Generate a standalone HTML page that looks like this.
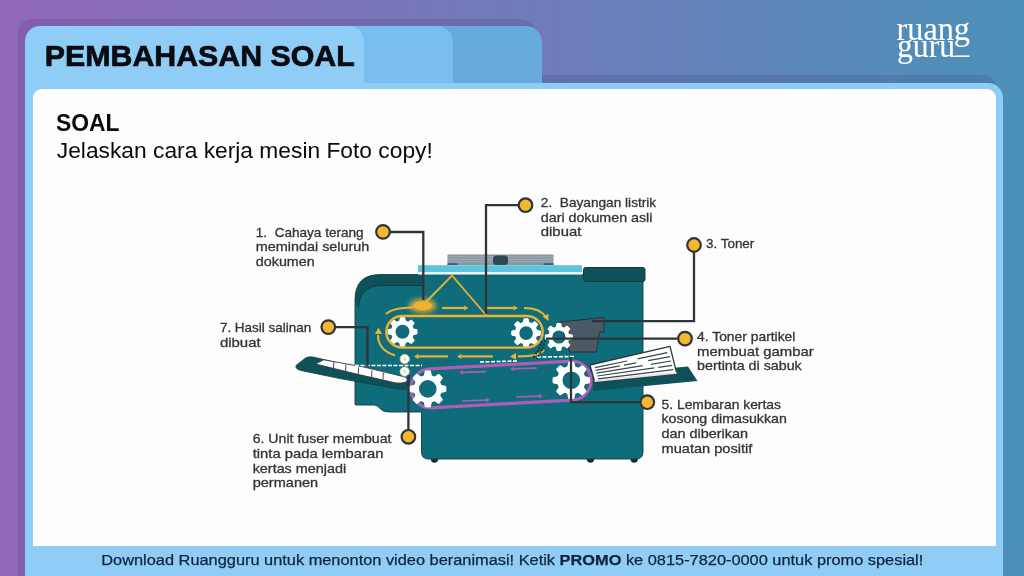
<!DOCTYPE html>
<html><head><meta charset="utf-8">
<style>
html,body{margin:0;padding:0;}
body{width:1024px;height:576px;overflow:hidden;position:relative;
background:linear-gradient(90deg,#9167b9 0%,#717bb9 50%,#4b90b9 100%);
font-family:"Liberation Sans",sans-serif;}
.a{position:absolute;}
svg{will-change:transform;}
.lab{position:absolute;font-size:12.5px;line-height:14.8px;color:#333;white-space:nowrap;}
</style></head>
<body>
<!-- shadows -->
<svg class="a" style="left:0;top:0" width="1024" height="576"><g opacity="0.13" fill="#281e5a"><path d="M18,35 Q18,19 34,19 L519,19 Q535,19 535,35 L535,75 L981,75 Q996,75 996,90 L996,600 L18,600Z"/></g></svg>
<!-- tabs -->
<div class="a" style="left:360px;top:26px;width:182px;height:70px;background:#67aadd;border-radius:16px 16px 0 0;"></div>
<div class="a" style="left:270px;top:26px;width:183px;height:70px;background:#78bdef;border-radius:16px 16px 0 0;"></div>
<div class="a" style="left:25px;top:26px;width:339px;height:70px;background:#8fcdf7;border-radius:15px 15px 0 0;"></div>
<!-- frame -->
<div class="a" style="left:25px;top:83px;width:978px;height:520px;background:#8fcdf7;border-radius:15px;"></div>
<div class="a" style="left:33px;top:89px;width:963px;height:457px;background:#fdfdfe;border-radius:9px 9px 0 0;"></div>
<svg class="a" style="left:0;top:0" width="1024" height="576">
<text id="title" x="44.8" y="65.5" font-size="30" font-weight="bold" fill="#0a0a0f" stroke="#0a0a0f" stroke-width="0.7" textLength="310" lengthAdjust="spacingAndGlyphs">PEMBAHASAN SOAL</text>
<text id="soal" x="56" y="130.9" font-size="23" font-weight="bold" fill="#0a0a0a" textLength="63.5" lengthAdjust="spacingAndGlyphs">SOAL</text>
<text id="q" x="56.8" y="157.8" font-size="21.5" fill="#0a0a0a" textLength="376" lengthAdjust="spacingAndGlyphs">Jelaskan cara kerja mesin Foto copy!</text>
<text id="foot" x="101.3" y="565.3" font-size="15.2" fill="#10233a" stroke="#10233a" stroke-width="0.25" textLength="822" lengthAdjust="spacingAndGlyphs">Download Ruangguru untuk menonton video beranimasi! Ketik <tspan font-weight="bold">PROMO</tspan> ke 0815-7820-0000 untuk promo spesial!</text>
</svg>
<svg class="a" style="left:0;top:0" width="1024" height="576" viewBox="0 0 1024 576">
<defs><filter id="blur" x="-50%" y="-50%" width="200%" height="200%"><feGaussianBlur stdDeviation="2.2"/></filter></defs>
<circle cx="434.5" cy="459" r="3.7" fill="#1d2b30"/>
<circle cx="590.5" cy="459" r="3.7" fill="#1d2b30"/>
<circle cx="634.2" cy="459" r="3.7" fill="#1d2b30"/>
<path d="M355,300 Q355,274.6 380,274.6 L643,274.6 L643,452 Q643,459 636,459 L428.5,459 Q421.5,459 421.5,452 L421.5,412 L389,412 Q383,412 380,408.5 Q377.5,405 374,405 L356,405 Q355,405 355,404 Z" fill="#0f6d7b" stroke="#163a41" stroke-width="0.9"/>
<path d="M355,306 L355,300 Q355,274.6 380,274.6 L423,274.6 L423,285.5 L383,285.5 Q360,285.5 358.5,306 Z" fill="#0f5159"/>
<path d="M358.5,308 Q359,285.5 383,285.5 L423,285.5" fill="none" stroke="#173a40" stroke-width="1"/>
<rect x="418" y="265.2" width="164" height="6.8" fill="#5ec4dd"/>
<rect x="418" y="272" width="164" height="2.6" fill="#e8f6fa"/>
<rect x="447.5" y="254.5" width="106" height="10.5" fill="#8796a0"/>
<line x1="447.5" y1="256.8" x2="553.5" y2="256.8" stroke="#a9b6bd" stroke-width="0.8"/>
<line x1="447.5" y1="259.3" x2="553.5" y2="259.3" stroke="#a9b6bd" stroke-width="0.8"/>
<line x1="447.5" y1="261.8" x2="553.5" y2="261.8" stroke="#a9b6bd" stroke-width="0.8"/>
<rect x="447.5" y="263.2" width="10" height="1.8" fill="#3d5c7a"/>
<rect x="543.5" y="263.2" width="10" height="1.8" fill="#3d5c7a"/>
<rect x="493" y="255.5" width="15" height="9.5" rx="3.5" fill="#2b4a55"/>
<rect x="583.5" y="267.5" width="61.5" height="14" rx="2" fill="#0f5159" stroke="#173a40" stroke-width="1"/>
<path d="M296,365.5 L305.5,358 Q308.5,356.3 313,357 L407,378.8 Q408.5,379.5 408,381.5 L405.5,389.5 Q398,389 385,386.5 L340,378.6 L301,370.5 Q295,369 296,365.5Z" fill="#0f5159" stroke="#173a40" stroke-width="0.8"/>
<path d="M315.4,364 L323.6,359.8 Q365,366 405,377 Q409,379 406,382 Q403,383.5 396,383 Q355,374 315.4,364Z" fill="#fff" stroke="#2a3a40" stroke-width="0.9"/>
<line x1="333.8" y1="362.0" x2="333.5" y2="368.5" stroke="#2a3a40" stroke-width="0.9"/>
<line x1="345.9" y1="364.6" x2="345.6" y2="371.3" stroke="#2a3a40" stroke-width="0.9"/>
<line x1="358.6" y1="367.3" x2="358.3" y2="374.1" stroke="#2a3a40" stroke-width="0.9"/>
<line x1="371.9" y1="370.2" x2="371.6" y2="377.1" stroke="#2a3a40" stroke-width="0.9"/>
<line x1="383.3" y1="372.6" x2="383.0" y2="379.7" stroke="#2a3a40" stroke-width="0.9"/>
<path d="M593,391 L593,375 L688,366.5 L697.5,381Z" fill="#0f5159"/>
<path d="M589.9,365 L670,346.4 L676.8,373.7 L594.8,382Z" fill="#fff" stroke="#2b3a40" stroke-width="1.3" stroke-linejoin="round"/>
<path d="M594.8,382 L676.8,373.7 L676.3,371.8 L594.3,380Z" fill="#e6e6e6"/>
<line x1="594.9" y1="367.6" x2="627.1" y2="361.0" stroke="#3c464c" stroke-width="1.25"/><line x1="637.6" y1="358.8" x2="667.3" y2="352.7" stroke="#3c464c" stroke-width="1.25"/>
<line x1="595.7" y1="370.4" x2="619.9" y2="365.9" stroke="#3c464c" stroke-width="1.25"/><line x1="624.0" y1="365.2" x2="636.1" y2="362.9" stroke="#3c464c" stroke-width="1.25"/><line x1="648.2" y1="360.7" x2="670.0" y2="356.7" stroke="#3c464c" stroke-width="1.25"/>
<line x1="596.5" y1="373.2" x2="642.7" y2="365.6" stroke="#3c464c" stroke-width="1.25"/><line x1="650.8" y1="364.3" x2="671.1" y2="361.0" stroke="#3c464c" stroke-width="1.25"/>
<line x1="597.3" y1="376.0" x2="654.3" y2="367.9" stroke="#3c464c" stroke-width="1.25"/><line x1="658.3" y1="367.3" x2="672.2" y2="365.3" stroke="#3c464c" stroke-width="1.25"/>
<line x1="598.1" y1="378.8" x2="673.3" y2="369.6" stroke="#3c464c" stroke-width="1.25"/>
<path d="M560,322 L604,317.5 L604,332 L599.5,332 L596.5,352 L569.5,352Z" fill="#4a5963" stroke="#263238" stroke-width="1"/>
<path d="M430.4,368.9 L571.5,361.1 A19.5,19.5 0 0 1 571.5,400.1 L430.4,407.9 A19.5,19.5 0 0 1 430.4,368.9Z" fill="none" stroke="#ac5fb2" stroke-width="3.1"/>
<g transform="translate(402.5,331.8)"><circle r="9.25" fill="none" stroke="#fff" stroke-width="4.50"/><path d="M-3.00,-10.00 L-2.03,-14.50 L2.03,-14.50 L3.00,-10.00Z" fill="#fff" stroke="#fff" stroke-width="1" stroke-linejoin="round" transform="rotate(0.0)"/><path d="M-3.00,-10.00 L-2.03,-14.50 L2.03,-14.50 L3.00,-10.00Z" fill="#fff" stroke="#fff" stroke-width="1" stroke-linejoin="round" transform="rotate(45.0)"/><path d="M-3.00,-10.00 L-2.03,-14.50 L2.03,-14.50 L3.00,-10.00Z" fill="#fff" stroke="#fff" stroke-width="1" stroke-linejoin="round" transform="rotate(90.0)"/><path d="M-3.00,-10.00 L-2.03,-14.50 L2.03,-14.50 L3.00,-10.00Z" fill="#fff" stroke="#fff" stroke-width="1" stroke-linejoin="round" transform="rotate(135.0)"/><path d="M-3.00,-10.00 L-2.03,-14.50 L2.03,-14.50 L3.00,-10.00Z" fill="#fff" stroke="#fff" stroke-width="1" stroke-linejoin="round" transform="rotate(180.0)"/><path d="M-3.00,-10.00 L-2.03,-14.50 L2.03,-14.50 L3.00,-10.00Z" fill="#fff" stroke="#fff" stroke-width="1" stroke-linejoin="round" transform="rotate(225.0)"/><path d="M-3.00,-10.00 L-2.03,-14.50 L2.03,-14.50 L3.00,-10.00Z" fill="#fff" stroke="#fff" stroke-width="1" stroke-linejoin="round" transform="rotate(270.0)"/><path d="M-3.00,-10.00 L-2.03,-14.50 L2.03,-14.50 L3.00,-10.00Z" fill="#fff" stroke="#fff" stroke-width="1" stroke-linejoin="round" transform="rotate(315.0)"/></g>
<g transform="translate(526.1,333.1)"><circle r="9.05" fill="none" stroke="#fff" stroke-width="4.50"/><path d="M-2.96,-9.80 L-2.00,-14.30 L2.00,-14.30 L2.96,-9.80Z" fill="#fff" stroke="#fff" stroke-width="1" stroke-linejoin="round" transform="rotate(0.0)"/><path d="M-2.96,-9.80 L-2.00,-14.30 L2.00,-14.30 L2.96,-9.80Z" fill="#fff" stroke="#fff" stroke-width="1" stroke-linejoin="round" transform="rotate(45.0)"/><path d="M-2.96,-9.80 L-2.00,-14.30 L2.00,-14.30 L2.96,-9.80Z" fill="#fff" stroke="#fff" stroke-width="1" stroke-linejoin="round" transform="rotate(90.0)"/><path d="M-2.96,-9.80 L-2.00,-14.30 L2.00,-14.30 L2.96,-9.80Z" fill="#fff" stroke="#fff" stroke-width="1" stroke-linejoin="round" transform="rotate(135.0)"/><path d="M-2.96,-9.80 L-2.00,-14.30 L2.00,-14.30 L2.96,-9.80Z" fill="#fff" stroke="#fff" stroke-width="1" stroke-linejoin="round" transform="rotate(180.0)"/><path d="M-2.96,-9.80 L-2.00,-14.30 L2.00,-14.30 L2.96,-9.80Z" fill="#fff" stroke="#fff" stroke-width="1" stroke-linejoin="round" transform="rotate(225.0)"/><path d="M-2.96,-9.80 L-2.00,-14.30 L2.00,-14.30 L2.96,-9.80Z" fill="#fff" stroke="#fff" stroke-width="1" stroke-linejoin="round" transform="rotate(270.0)"/><path d="M-2.96,-9.80 L-2.00,-14.30 L2.00,-14.30 L2.96,-9.80Z" fill="#fff" stroke="#fff" stroke-width="1" stroke-linejoin="round" transform="rotate(315.0)"/></g>
<g transform="translate(558.9,337)"><circle r="8.60" fill="none" stroke="#fff" stroke-width="4.00"/><path d="M-2.80,-9.10 L-1.89,-13.50 L1.89,-13.50 L2.80,-9.10Z" fill="#fff" stroke="#fff" stroke-width="1" stroke-linejoin="round" transform="rotate(0.0)"/><path d="M-2.80,-9.10 L-1.89,-13.50 L1.89,-13.50 L2.80,-9.10Z" fill="#fff" stroke="#fff" stroke-width="1" stroke-linejoin="round" transform="rotate(45.0)"/><path d="M-2.80,-9.10 L-1.89,-13.50 L1.89,-13.50 L2.80,-9.10Z" fill="#fff" stroke="#fff" stroke-width="1" stroke-linejoin="round" transform="rotate(90.0)"/><path d="M-2.80,-9.10 L-1.89,-13.50 L1.89,-13.50 L2.80,-9.10Z" fill="#fff" stroke="#fff" stroke-width="1" stroke-linejoin="round" transform="rotate(135.0)"/><path d="M-2.80,-9.10 L-1.89,-13.50 L1.89,-13.50 L2.80,-9.10Z" fill="#fff" stroke="#fff" stroke-width="1" stroke-linejoin="round" transform="rotate(180.0)"/><path d="M-2.80,-9.10 L-1.89,-13.50 L1.89,-13.50 L2.80,-9.10Z" fill="#fff" stroke="#fff" stroke-width="1" stroke-linejoin="round" transform="rotate(225.0)"/><path d="M-2.80,-9.10 L-1.89,-13.50 L1.89,-13.50 L2.80,-9.10Z" fill="#fff" stroke="#fff" stroke-width="1" stroke-linejoin="round" transform="rotate(270.0)"/><path d="M-2.80,-9.10 L-1.89,-13.50 L1.89,-13.50 L2.80,-9.10Z" fill="#fff" stroke="#fff" stroke-width="1" stroke-linejoin="round" transform="rotate(315.0)"/></g>
<g transform="translate(427.8,388.9)"><circle r="11.40" fill="none" stroke="#fff" stroke-width="5.20"/><path d="M-3.70,-12.50 L-2.50,-18.00 L2.50,-18.00 L3.70,-12.50Z" fill="#fff" stroke="#fff" stroke-width="1" stroke-linejoin="round" transform="rotate(0.0)"/><path d="M-3.70,-12.50 L-2.50,-18.00 L2.50,-18.00 L3.70,-12.50Z" fill="#fff" stroke="#fff" stroke-width="1" stroke-linejoin="round" transform="rotate(45.0)"/><path d="M-3.70,-12.50 L-2.50,-18.00 L2.50,-18.00 L3.70,-12.50Z" fill="#fff" stroke="#fff" stroke-width="1" stroke-linejoin="round" transform="rotate(90.0)"/><path d="M-3.70,-12.50 L-2.50,-18.00 L2.50,-18.00 L3.70,-12.50Z" fill="#fff" stroke="#fff" stroke-width="1" stroke-linejoin="round" transform="rotate(135.0)"/><path d="M-3.70,-12.50 L-2.50,-18.00 L2.50,-18.00 L3.70,-12.50Z" fill="#fff" stroke="#fff" stroke-width="1" stroke-linejoin="round" transform="rotate(180.0)"/><path d="M-3.70,-12.50 L-2.50,-18.00 L2.50,-18.00 L3.70,-12.50Z" fill="#fff" stroke="#fff" stroke-width="1" stroke-linejoin="round" transform="rotate(225.0)"/><path d="M-3.70,-12.50 L-2.50,-18.00 L2.50,-18.00 L3.70,-12.50Z" fill="#fff" stroke="#fff" stroke-width="1" stroke-linejoin="round" transform="rotate(270.0)"/><path d="M-3.70,-12.50 L-2.50,-18.00 L2.50,-18.00 L3.70,-12.50Z" fill="#fff" stroke="#fff" stroke-width="1" stroke-linejoin="round" transform="rotate(315.0)"/></g>
<g transform="translate(571.3,380.3)"><circle r="11.50" fill="none" stroke="#fff" stroke-width="5.40"/><path d="M-3.74,-12.70 L-2.52,-18.20 L2.52,-18.20 L3.74,-12.70Z" fill="#fff" stroke="#fff" stroke-width="1" stroke-linejoin="round" transform="rotate(0.0)"/><path d="M-3.74,-12.70 L-2.52,-18.20 L2.52,-18.20 L3.74,-12.70Z" fill="#fff" stroke="#fff" stroke-width="1" stroke-linejoin="round" transform="rotate(45.0)"/><path d="M-3.74,-12.70 L-2.52,-18.20 L2.52,-18.20 L3.74,-12.70Z" fill="#fff" stroke="#fff" stroke-width="1" stroke-linejoin="round" transform="rotate(90.0)"/><path d="M-3.74,-12.70 L-2.52,-18.20 L2.52,-18.20 L3.74,-12.70Z" fill="#fff" stroke="#fff" stroke-width="1" stroke-linejoin="round" transform="rotate(135.0)"/><path d="M-3.74,-12.70 L-2.52,-18.20 L2.52,-18.20 L3.74,-12.70Z" fill="#fff" stroke="#fff" stroke-width="1" stroke-linejoin="round" transform="rotate(180.0)"/><path d="M-3.74,-12.70 L-2.52,-18.20 L2.52,-18.20 L3.74,-12.70Z" fill="#fff" stroke="#fff" stroke-width="1" stroke-linejoin="round" transform="rotate(225.0)"/><path d="M-3.74,-12.70 L-2.52,-18.20 L2.52,-18.20 L3.74,-12.70Z" fill="#fff" stroke="#fff" stroke-width="1" stroke-linejoin="round" transform="rotate(270.0)"/><path d="M-3.74,-12.70 L-2.52,-18.20 L2.52,-18.20 L3.74,-12.70Z" fill="#fff" stroke="#fff" stroke-width="1" stroke-linejoin="round" transform="rotate(315.0)"/></g>
<rect x="386.3" y="316" width="156.4" height="31.6" rx="15.8" fill="none" stroke="#eeb232" stroke-width="2.4"/>
<ellipse cx="422.6" cy="305.8" rx="14" ry="7.5" fill="#eeb232" opacity="0.75" filter="url(#blur)"/>
<ellipse cx="422.6" cy="305.8" rx="9.5" ry="4.6" fill="#eeb232"/>
<polyline points="423,305 452,275.5 486,315" fill="none" stroke="#eeb232" stroke-width="1.8"/>
<line x1="442" y1="308" x2="464.00" y2="308.00" stroke="#eeb232" stroke-width="2.2"/><path d="M468.50,308.00 L464.00,310.61 L464.00,305.39Z" fill="#eeb232"/>
<line x1="487" y1="308" x2="513.50" y2="308.00" stroke="#eeb232" stroke-width="2.2"/><path d="M518.00,308.00 L513.50,310.61 L513.50,305.39Z" fill="#eeb232"/>
<path d="M524,308 Q540,308 546,317" fill="none" stroke="#eeb232" stroke-width="2.2"/>
<path d="M548.5,321 L542.5,316.5 L548.5,314Z" fill="#eeb232"/>
<path d="M413,307.5 Q393,307.5 386,314" fill="none" stroke="#eeb232" stroke-width="2"/>
<path d="M395,355.5 Q378,350 378,335" fill="none" stroke="#eeb232" stroke-width="2"/>
<path d="M378.5,327.5 L375,334 L382,334Z" fill="#eeb232"/>
<line x1="448" y1="356.4" x2="418.50" y2="356.40" stroke="#eeb232" stroke-width="2.2"/><path d="M414.00,356.40 L418.50,353.79 L418.50,359.01Z" fill="#eeb232"/>
<line x1="493" y1="356.4" x2="461.50" y2="356.40" stroke="#eeb232" stroke-width="2.2"/><path d="M457.00,356.40 L461.50,353.79 L461.50,359.01Z" fill="#eeb232"/>
<path d="M544,350 Q540,356.4 518,356.4" fill="none" stroke="#eeb232" stroke-width="2.2"/>
<path d="M510,356.4 L516,353 L516,359.8Z" fill="#eeb232"/>
<line x1="486" y1="371.6" x2="463.00" y2="372.37" stroke="#ac5fb2" stroke-width="1.7"/><path d="M459.00,372.50 L462.92,370.05 L463.08,374.69Z" fill="#ac5fb2"/>
<line x1="537" y1="368" x2="514.00" y2="368.85" stroke="#ac5fb2" stroke-width="1.7"/><path d="M510.00,369.00 L513.91,366.53 L514.08,371.17Z" fill="#ac5fb2"/>
<line x1="462" y1="401" x2="486.00" y2="400.14" stroke="#ac5fb2" stroke-width="1.7"/><path d="M490.00,400.00 L486.09,402.46 L485.92,397.82Z" fill="#ac5fb2"/>
<line x1="516" y1="397" x2="539.00" y2="396.15" stroke="#ac5fb2" stroke-width="1.7"/><path d="M543.00,396.00 L539.09,398.47 L538.92,393.83Z" fill="#ac5fb2"/>
<line x1="355" y1="365.5" x2="422" y2="365.5" stroke="#fff" stroke-width="1.6" stroke-dasharray="4,1.5"/>
<line x1="480" y1="362" x2="518" y2="361" stroke="#fff" stroke-width="1.6" stroke-dasharray="4,1.5"/>
<line x1="537" y1="357" x2="575" y2="356.5" stroke="#fff" stroke-width="1.6" stroke-dasharray="4,1.5"/>
<path d="M545,340.5 Q543,350 536.5,359" fill="none" stroke="#0b1a1e" stroke-width="1.6" stroke-dasharray="1.6,1.6"/>
<path d="M541.5,341.5 Q540,349 533.5,357" fill="none" stroke="#0b1a1e" stroke-width="1.6" stroke-dasharray="1.6,1.6"/>
<circle cx="404.7" cy="359" r="4.6" fill="#fff" stroke="#e9d48a" stroke-width="0.8"/><circle cx="404.7" cy="359" r="1.8" fill="#cfe6ee"/>
<circle cx="404.7" cy="371.6" r="4.6" fill="#fff" stroke="#e9d48a" stroke-width="0.8"/><circle cx="404.7" cy="371.6" r="1.8" fill="#cfe6ee"/>
<polyline points="383,232 423.3,232 423.3,300" fill="none" stroke="#2f3437" stroke-width="2.3"/>
<polyline points="525.5,205.2 486,205.2 486,314" fill="none" stroke="#2f3437" stroke-width="2.3"/>
<polyline points="694,245 694,321.2 592,321.2" fill="none" stroke="#2f3437" stroke-width="2.3"/>
<polyline points="685,338.6 546,338.6" fill="none" stroke="#2f3437" stroke-width="2.3"/>
<polyline points="647.3,402.2 571,402.2 571,357" fill="none" stroke="#2f3437" stroke-width="2.3"/>
<polyline points="408.4,436.8 408.4,375" fill="none" stroke="#2f3437" stroke-width="2.3"/>
<polyline points="328.3,327.1 367.5,327.1 367.5,366.7" fill="none" stroke="#2f3437" stroke-width="2.3"/>
<circle cx="383" cy="231.9" r="6.8" fill="#f5b730" stroke="#2f3437" stroke-width="2.2"/>
<circle cx="525.5" cy="205.2" r="6.8" fill="#f5b730" stroke="#2f3437" stroke-width="2.2"/>
<circle cx="694" cy="245" r="6.8" fill="#f5b730" stroke="#2f3437" stroke-width="2.2"/>
<circle cx="685" cy="338.6" r="6.8" fill="#f5b730" stroke="#2f3437" stroke-width="2.2"/>
<circle cx="647.3" cy="402.2" r="6.8" fill="#f5b730" stroke="#2f3437" stroke-width="2.2"/>
<circle cx="408.4" cy="436.8" r="6.8" fill="#f5b730" stroke="#2f3437" stroke-width="2.2"/>
<circle cx="328.3" cy="327.1" r="6.8" fill="#f5b730" stroke="#2f3437" stroke-width="2.2"/>
</svg><svg class="a" style="left:0;top:0" width="1024" height="576">
<text x="255.8" y="236.5" font-size="13" fill="#343434" stroke="#343434" stroke-width="0.3" textLength="107.8" lengthAdjust="spacingAndGlyphs">1.  Cahaya terang</text>
<text x="255.8" y="251.1" font-size="13" fill="#343434" stroke="#343434" stroke-width="0.3" textLength="113.5" lengthAdjust="spacingAndGlyphs">memindai seluruh</text>
<text x="255.8" y="265.7" font-size="13" fill="#343434" stroke="#343434" stroke-width="0.3" textLength="58.9" lengthAdjust="spacingAndGlyphs">dokumen</text>
<text x="540.8000000000001" y="207.1" font-size="13" fill="#343434" stroke="#343434" stroke-width="0.3" textLength="115.39999999999999" lengthAdjust="spacingAndGlyphs">2.  Bayangan listrik</text>
<text x="540.8000000000001" y="221.7" font-size="13" fill="#343434" stroke="#343434" stroke-width="0.3" textLength="111.6" lengthAdjust="spacingAndGlyphs">dari dokumen asli</text>
<text x="540.8000000000001" y="236.3" font-size="13" fill="#343434" stroke="#343434" stroke-width="0.3" textLength="40.5" lengthAdjust="spacingAndGlyphs">dibuat</text>
<text x="706.0" y="248.3" font-size="13" fill="#343434" stroke="#343434" stroke-width="0.3" textLength="48.3" lengthAdjust="spacingAndGlyphs">3. Toner</text>
<text x="697.1" y="341.1" font-size="13" fill="#343434" stroke="#343434" stroke-width="0.3" textLength="98.3" lengthAdjust="spacingAndGlyphs">4. Toner partikel</text>
<text x="697.1" y="355.8" font-size="13" fill="#343434" stroke="#343434" stroke-width="0.3" textLength="116.7" lengthAdjust="spacingAndGlyphs">membuat gambar</text>
<text x="697.1" y="370.1" font-size="13" fill="#343434" stroke="#343434" stroke-width="0.3" textLength="104.6" lengthAdjust="spacingAndGlyphs">bertinta di sabuk</text>
<text x="661.5" y="408.7" font-size="13" fill="#343434" stroke="#343434" stroke-width="0.3" textLength="119.5" lengthAdjust="spacingAndGlyphs">5. Lembaran kertas</text>
<text x="661.5" y="423.4" font-size="13" fill="#343434" stroke="#343434" stroke-width="0.3" textLength="125.3" lengthAdjust="spacingAndGlyphs">kosong dimasukkan</text>
<text x="661.5" y="438.3" font-size="13" fill="#343434" stroke="#343434" stroke-width="0.3" textLength="86.5" lengthAdjust="spacingAndGlyphs">dan diberikan</text>
<text x="661.5" y="453.3" font-size="13" fill="#343434" stroke="#343434" stroke-width="0.3" textLength="90.89999999999999" lengthAdjust="spacingAndGlyphs">muatan positif</text>
<text x="252.7" y="442.6" font-size="13" fill="#343434" stroke="#343434" stroke-width="0.3" textLength="138.8" lengthAdjust="spacingAndGlyphs">6. Unit fuser membuat</text>
<text x="252.7" y="457.5" font-size="13" fill="#343434" stroke="#343434" stroke-width="0.3" textLength="130.70000000000002" lengthAdjust="spacingAndGlyphs">tinta pada lembaran</text>
<text x="252.7" y="472.6" font-size="13" fill="#343434" stroke="#343434" stroke-width="0.3" textLength="93.39999999999999" lengthAdjust="spacingAndGlyphs">kertas menjadi</text>
<text x="252.7" y="487.3" font-size="13" fill="#343434" stroke="#343434" stroke-width="0.3" textLength="65.5" lengthAdjust="spacingAndGlyphs">permanen</text>
<text x="219.89999999999998" y="332.2" font-size="13" fill="#343434" stroke="#343434" stroke-width="0.3" textLength="91.3" lengthAdjust="spacingAndGlyphs">7. Hasil salinan</text>
<text x="219.89999999999998" y="347" font-size="13" fill="#343434" stroke="#343434" stroke-width="0.3" textLength="40.699999999999996" lengthAdjust="spacingAndGlyphs">dibuat</text>
</svg><svg class="a" style="left:880px;top:10px" width="110" height="65" viewBox="880 10 110 65">
<text x="896.5" y="39.6" font-family="Liberation Serif" font-size="34" fill="#fff" stroke="#fff" stroke-width="0.1" textLength="73.5" lengthAdjust="spacingAndGlyphs">ruang</text>
<text x="897" y="56.8" font-family="Liberation Serif" font-size="34" fill="#fff" stroke="#fff" stroke-width="0.1" textLength="58" lengthAdjust="spacingAndGlyphs">guru</text>
<rect x="955" y="55.4" width="14.5" height="1.5" fill="#fff"/>
</svg>
</body></html>
